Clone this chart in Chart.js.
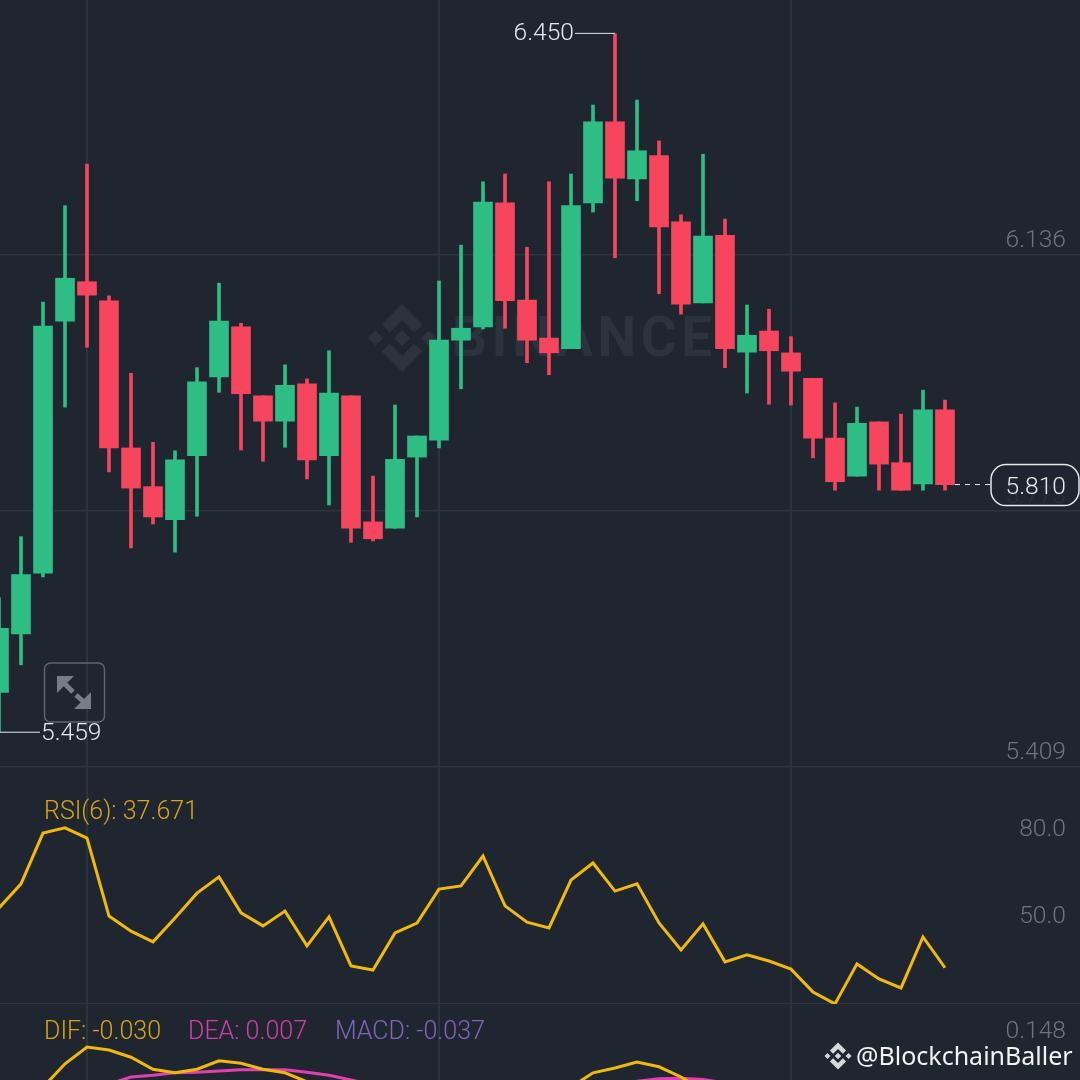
<!DOCTYPE html>
<html>
<head>
<meta charset="utf-8">
<script src="https://cdn.jsdelivr.net/npm/chart.js@4"></script>
<style>
  html, body { margin: 0; padding: 0; background: #1f2630; overflow: hidden; }
  .pane { position: absolute; left: 0; width: 1080px; }
  #pricePane { top: 0; height: 768px; }
  #rsiPane { top: 768px; height: 236px; }
  #macdPane { top: 1004px; height: 76px; }
</style>
</head>
<body>
<div class="pane" id="pricePane"><canvas id="priceChart"></canvas></div>
<div class="pane" id="rsiPane"><canvas id="rsiChart"></canvas></div>
<div class="pane" id="macdPane"><canvas id="macdChart"></canvas></div>
<script>
// candles, left to right
const opens = [5.515, 5.598, 5.684, 6.042, 6.098, 6.071, 5.862, 5.807, 5.760, 5.851, 5.963, 6.034, 5.936, 5.900, 5.953, 5.851, 5.936, 5.757, 5.748, 5.849, 5.873, 6.015, 6.034, 6.210, 6.072, 6.018, 6.003, 6.210, 6.325, 6.244, 6.277, 6.183, 6.068, 6.164, 5.998, 6.028, 5.997, 5.961, 5.876, 5.822, 5.899, 5.841, 5.811, 5.916];
const highs = [5.649, 5.736, 6.069, 6.206, 6.265, 6.078, 5.968, 5.870, 5.858, 5.976, 6.096, 6.039, 5.936, 5.980, 5.960, 6.000, 5.936, 5.822, 5.923, 5.879, 6.099, 6.150, 6.240, 6.251, 6.147, 6.240, 6.251, 6.349, 6.450, 6.356, 6.298, 6.193, 6.279, 6.187, 6.065, 6.059, 6.020, 5.961, 5.926, 5.920, 5.899, 5.910, 5.944, 5.930];
const lows = [5.459, 5.554, 5.679, 5.920, 6.005, 5.828, 5.720, 5.754, 5.714, 5.765, 5.941, 5.859, 5.843, 5.863, 5.818, 5.781, 5.728, 5.730, 5.748, 5.764, 5.862, 5.946, 6.031, 6.032, 5.983, 5.966, 6.003, 6.197, 6.132, 6.213, 6.081, 6.052, 6.068, 5.976, 5.940, 5.924, 5.923, 5.848, 5.802, 5.822, 5.802, 5.802, 5.802, 5.802];
const closes = [5.606, 5.682, 6.035, 6.103, 6.079, 5.862, 5.805, 5.764, 5.845, 5.956, 6.042, 5.939, 5.900, 5.951, 5.845, 5.940, 5.748, 5.733, 5.846, 5.879, 6.015, 6.032, 6.211, 6.071, 6.015, 5.997, 6.206, 6.325, 6.245, 6.284, 6.176, 6.066, 6.163, 6.003, 6.022, 6.000, 5.971, 5.876, 5.814, 5.897, 5.839, 5.802, 5.916, 5.810];

const rsiValues = [58.3, 66.6, 84.1, 85.9, 82.4, 55.5, 50.3, 46.6, 54.8, 63.4, 69.0, 56.6, 52.1, 57.2, 45.2, 55.2, 38.3, 36.9, 49.7, 53.1, 64.8, 65.9, 76.2, 59.0, 53.4, 51.4, 67.9, 73.8, 64.1, 66.6, 53.1, 43.8, 52.8, 39.7, 42.1, 40.0, 37.2, 29.3, 25.2, 39.0, 33.8, 30.7, 48.3, 37.671];
const difValues = [-0.007, 0.035, 0.081, 0.120, 0.148, 0.143, 0.131, 0.111, 0.105, 0.111, 0.125, 0.121, 0.111, 0.105, 0.090, 0.068, 0.035, 0.010, 0.001, 0.010, 0.035, 0.051, 0.060, 0.060, 0.051, 0.060, 0.081, 0.105, 0.113, 0.123, 0.115, 0.098, 0.076, 0.060, 0.043, 0.026, 0.010, -0.007, -0.024, -0.032, -0.032, -0.032, -0.024, -0.030];
const deaValues = [0.018, 0.043, 0.060, 0.073, 0.081, 0.086, 0.098, 0.101, 0.105, 0.106, 0.108, 0.110, 0.110, 0.110, 0.106, 0.101, 0.093, 0.085, 0.076, 0.070, 0.066, 0.063, 0.063, 0.063, 0.063, 0.065, 0.070, 0.076, 0.083, 0.091, 0.095, 0.096, 0.094, 0.088, 0.080, 0.068, 0.055, 0.040, 0.026, 0.015, 0.005, 0.001, 0.008, 0.007];

const priceTicks = [5.409, 5.773, 6.136];
const rsiTicks = [50, 80];
const macdTicks = [0.148];
const timeTicks = [4, 20, 36];

const BG = '#1f2630';
const GRID = '#2e343f';
const UP = '#2ebd85';
const DOWN = '#f6465d';
const AXIS_TEXT = '#6c7480';
const LABEL_TEXT = '#e6e8ea';
const YELLOW = '#f0b90b';
const PINK = '#e040b0';
const FONT = 'Roboto';
const LABEL_FONT = '300 24.6px ' + FONT;
const LEGEND_FONT = '300 25px ' + FONT;

const candleIdx = opens.map((v, i) => i);
const candleColors = opens.map((v, i) => closes[i] >= v ? UP : DOWN);

// shared x axis, one candle is 22px and index 0 sits just off the left edge
function xAxis() {
  return {
    type: 'linear',
    min: 1 / 22,
    max: 1081 / 22,
    offset: false,
    border: { display: false },
    grid: { color: GRID, lineWidth: 2, offset: false, drawTicks: false },
    afterBuildTicks: axis => { axis.ticks = timeTicks.map(v => ({ value: v })); },
    afterFit: axis => { axis.height = 0; axis.paddingLeft = 0; axis.paddingRight = 0; },
    ticks: { display: false }
  };
}

function yAxis(min, max, values, digits, showGrid) {
  return {
    position: 'right',
    min: min,
    max: max,
    border: { display: false },
    grid: { display: showGrid, color: GRID, lineWidth: 1.5, drawTicks: false },
    afterBuildTicks: axis => { axis.ticks = values.map(v => ({ value: v })); },
    // labels sit inside the plot, so they take no room from it
    afterFit: axis => { axis.width = 0; axis.paddingTop = 0; axis.paddingBottom = 0; },
    ticks: {
      mirror: true,
      padding: -14,
      labelOffset: -15,
      color: AXIS_TEXT,
      font: { family: FONT, size: 24.6, weight: 300 },
      callback: v => v.toFixed(digits)
    }
  };
}

function baseOptions(scales) {
  return {
    responsive: true,
    maintainAspectRatio: false,
    animation: false,
    layout: { padding: 0 },
    plugins: { legend: { display: false }, tooltip: { enabled: false } },
    scales: scales
  };
}

function lineSet(values, color) {
  return {
    data: values.map((v, i) => ({ x: i, y: v })),
    borderColor: color,
    borderWidth: 3,
    pointRadius: 0,
    tension: 0,
    fill: false
  };
}

function binanceLogo(ctx, cx, cy, r, color) {
  const poly = pts => {
    ctx.beginPath();
    pts.forEach((p, i) => i ? ctx.lineTo(cx + p[0] * r, cy + p[1] * r) : ctx.moveTo(cx + p[0] * r, cy + p[1] * r));
    ctx.closePath();
    ctx.fill();
  };
  const diamond = (dx, d) => poly([[dx, -d], [dx + d, 0], [dx, d], [dx - d, 0]]);
  ctx.save();
  ctx.fillStyle = color;
  diamond(0, 0.24);
  diamond(-0.78, 0.22);
  diamond(0.78, 0.22);
  poly([[0, -1], [0.6, -0.4], [0.36, -0.16], [0, -0.52], [-0.36, -0.16], [-0.6, -0.4]]);
  poly([[0, 1], [0.6, 0.4], [0.36, 0.16], [0, 0.52], [-0.36, 0.16], [-0.6, 0.4]]);
  ctx.restore();
}

function text(ctx, str, x, y, color, align, font) {
  ctx.fillStyle = color;
  ctx.textAlign = align || 'left';
  ctx.textBaseline = 'middle';
  ctx.font = font || LABEL_FONT;
  ctx.fillText(str, x, y);
}

// faint logo behind the candles
const priceWatermark = {
  id: 'priceWatermark',
  beforeDatasetsDraw(chart) {
    const ctx = chart.ctx;
    ctx.save();
    binanceLogo(ctx, 402, 338, 34, '#2c323e');
    ctx.letterSpacing = '4.5px';
    text(ctx, 'BINANCE', 452, 342, '#2c323e', 'left', 'bold 55px ' + FONT);
    ctx.restore();
  }
};

// high / low / last price marks and the expand button
const priceMarks = {
  id: 'priceMarks',
  afterDatasetsDraw(chart) {
    const ctx = chart.ctx;
    const x = chart.scales.x, y = chart.scales.y;
    const hiIdx = highs.indexOf(Math.max(...highs));
    const loIdx = lows.indexOf(Math.min(...lows));
    const last = closes.length - 1;
    ctx.save();

    const hiY = y.getPixelForValue(highs[hiIdx]) - 0.5;
    const hiX = x.getPixelForValue(hiIdx);
    ctx.strokeStyle = LABEL_TEXT;
    ctx.lineWidth = 1;
    ctx.beginPath();
    ctx.moveTo(hiX, hiY);
    ctx.lineTo(hiX - 40, hiY);
    ctx.stroke();
    text(ctx, highs[hiIdx].toFixed(3), hiX - 41, hiY + 0.5, LABEL_TEXT, 'right');

    const loY = y.getPixelForValue(lows[loIdx]) + 0.5;
    ctx.beginPath();
    ctx.moveTo(x.getPixelForValue(loIdx), loY);
    ctx.lineTo(40, loY);
    ctx.stroke();
    text(ctx, lows[loIdx].toFixed(3), 41, loY + 2, LABEL_TEXT, 'left');

    const lastY = y.getPixelForValue(closes[last]);
    ctx.setLineDash([5, 5]);
    ctx.beginPath();
    ctx.moveTo(x.getPixelForValue(last) + 10, lastY);
    ctx.lineTo(991, lastY);
    ctx.stroke();
    ctx.setLineDash([]);
    ctx.fillStyle = 'rgba(31, 38, 48, 0.85)';
    ctx.lineWidth = 1.5;
    ctx.beginPath();
    ctx.roundRect(991, lastY - 20, 88, 41, 15);
    ctx.fill();
    ctx.stroke();
    text(ctx, closes[last].toFixed(3), 1066, lastY + 3, LABEL_TEXT, 'right');

    // expand button
    ctx.strokeStyle = '#5f6570';
    ctx.lineWidth = 1.5;
    ctx.beginPath();
    ctx.roundRect(44.5, 663, 60, 59, 6);
    ctx.stroke();
    ctx.fillStyle = '#777d87';
    ctx.beginPath();
    ctx.moveTo(57, 676); ctx.lineTo(74, 676); ctx.lineTo(57, 693); ctx.closePath();
    ctx.moveTo(91, 692); ctx.lineTo(91, 709); ctx.lineTo(74, 709); ctx.closePath();
    ctx.fill();
    ctx.strokeStyle = '#777d87';
    ctx.lineWidth = 5;
    ctx.beginPath();
    ctx.moveTo(63, 682); ctx.lineTo(73, 692);
    ctx.moveTo(76, 695); ctx.lineTo(85, 703);
    ctx.stroke();
    ctx.restore();
  }
};

const rsiLegend = {
  id: 'rsiLegend',
  afterDatasetsDraw(chart) {
    text(chart.ctx, 'RSI(6): ' + rsiValues[rsiValues.length - 1].toFixed(3), 44, 45, '#d9a516', 'left', LEGEND_FONT);
  }
};

const macdLegend = {
  id: 'macdLegend',
  afterDatasetsDraw(chart) {
    const ctx = chart.ctx;
    const dif = difValues[difValues.length - 1];
    const dea = deaValues[deaValues.length - 1];
    text(ctx, 'DIF: ' + dif.toFixed(3), 44, 29, '#d9a516', 'left', LEGEND_FONT);
    text(ctx, 'DEA: ' + dea.toFixed(3), 188, 29, '#d040aa', 'left', LEGEND_FONT);
    text(ctx, 'MACD: ' + (dif - dea).toFixed(3), 335, 29, '#8463bc', 'left', LEGEND_FONT);
    binanceLogo(ctx, 838, 52, 13.5, '#d5d7da');
    text(ctx, '@BlockchainBaller', 856, 54, '#f2f3f4', 'left', '25px "Noto Sans"');
  }
};

const priceY = yAxis(5.4075, 6.4981, priceTicks, 3, true);
priceY.ticks.labelOffset = -14;

new Chart(document.getElementById('priceChart'), {
  type: 'bar',
  data: {
    datasets: [
      {
        grouped: false,
        barThickness: 3,
        data: candleIdx.map(i => ({ x: i, y: [lows[i], highs[i]] })),
        backgroundColor: candleColors
      },
      {
        grouped: false,
        barThickness: 19,
        data: candleIdx.map(i => ({ x: i, y: [opens[i], closes[i]] })),
        backgroundColor: candleColors
      }
    ]
  },
  options: baseOptions({ x: xAxis(), y: priceY }),
  plugins: [priceWatermark, priceMarks]
});

const rsiX = xAxis();
rsiX.border = { display: true, color: GRID, width: 2 };
new Chart(document.getElementById('rsiChart'), {
  type: 'line',
  data: { datasets: [lineSet(rsiValues, YELLOW)] },
  options: baseOptions({ x: rsiX, y: yAxis(25.17, 106.55, rsiTicks, 1, false) }),
  plugins: [rsiLegend]
});

new Chart(document.getElementById('macdChart'), {
  type: 'line',
  data: { datasets: [lineSet(difValues, YELLOW), lineSet(deaValues, PINK)] },
  options: baseOptions({ x: xAxis(), y: yAxis(0.093, 0.2197, macdTicks, 3, false) }),
  plugins: [macdLegend]
});
</script>
</body>
</html>
